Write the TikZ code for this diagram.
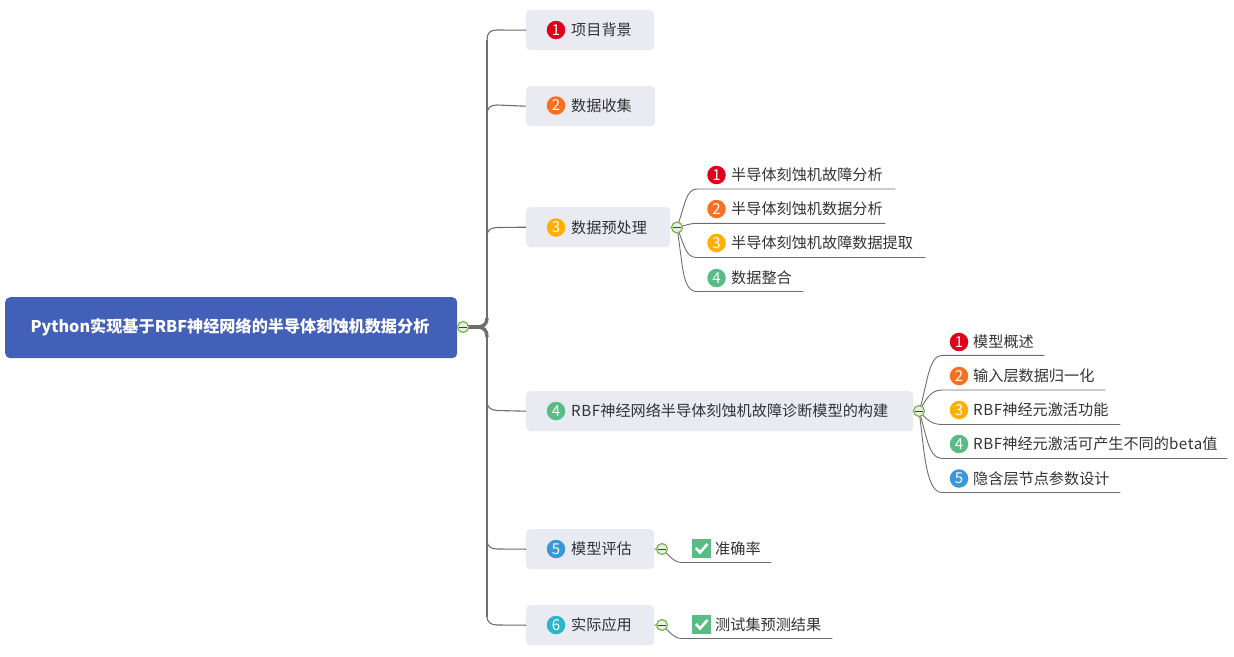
\documentclass[tikz,border=0pt]{standalone}
\usepackage{fontspec}
\setmainfont{Noto Sans CJK SC}
\newfontfamily\widelat[LetterSpace=4]{Noto Sans CJK SC}
\definecolor{cA}{HTML}{E0001B}
\definecolor{cB}{HTML}{F97022}
\definecolor{cC}{HTML}{FFAF00}
\definecolor{cD}{HTML}{58BC85}
\definecolor{cE}{HTML}{3A97D8}
\definecolor{cF}{HTML}{2CB4CC}
\definecolor{boxfill}{HTML}{E9EAF2}
\definecolor{rootfill}{HTML}{4360B9}
\definecolor{linecol}{HTML}{6E6E6E}
\definecolor{txt}{HTML}{333333}
\definecolor{foldgreen}{HTML}{7AB648}
\definecolor{foldfill}{HTML}{E6F0DF}
\tikzset{
  x=1pt,y=-1pt,
  mainbox/.style={fill=boxfill,rounded corners=4pt,inner sep=0pt,anchor=north west,minimum height=40pt},
  rootbox/.style={fill=rootfill,rounded corners=5pt,inner sep=0pt,anchor=north west,minimum width=452pt,minimum height=61pt},
  badge/.style={circle,inner sep=0pt,minimum size=18.5pt,text=white,font=\fontsize{15}{17}\selectfont},
  label/.style={inner sep=0pt,anchor=base west,text=txt,font=\fontsize{15.15}{18}\selectfont},
  hit/.style={inner sep=0pt,anchor=south west,minimum height=28pt},
  fold/.style={circle,draw=foldgreen,fill=foldfill,line width=1.2pt,minimum size=11pt,inner sep=0pt},
  checkbox/.style={fill=cD,inner sep=0pt,minimum size=19pt},
  branch/.style={draw=linecol,line width=1.1pt},
  twig/.style={draw=linecol,line width=0.9pt},
}
\newcommand{\foldminus}[1]{\draw[black!75,line width=1pt] ([xshift=-3.6pt]#1.center) -- ([xshift=3.6pt]#1.center);}
\newcommand{\checkmk}[1]{\draw[white,line width=2.6pt] ([shift={(-5.5pt,0.5pt)}]#1.center) -- ([shift={(-1.5pt,-4pt)}]#1.center) -- ([shift={(6pt,4.5pt)}]#1.center);}
\newcommand{\wl}[1]{{\widelat #1}}
\begin{document}
\begin{tikzpicture}
\useasboundingbox (0,0) rectangle (1234,656);
% root
\node[rootbox] (root) at (5,297) {};
\node[inner sep=0pt,text=white,font=\fontsize{16.15}{20}\selectfont\bfseries] (roott) at (230,327) {Python实现基于RBF神经网络的半导体刻蚀机数据分析};
% main boxes
\node[mainbox,minimum width=128pt] (b1) at (526,10) {};
\node[mainbox,minimum width=129pt] (b2) at (526,86) {};
\node[mainbox,minimum width=144pt] (b3) at (526,207) {};
\node[mainbox,minimum width=387pt] (b4) at (526,391) {};
\node[mainbox,minimum width=128pt] (b5) at (526,529) {};
\node[mainbox,minimum width=128pt] (b6) at (526,605) {};
% folds
\coordinate (fr) at (463,327);
\coordinate (f3) at (677,227.5);
\coordinate (f4) at (919,411);
\coordinate (f5) at (662,549);
\coordinate (f6) at (662,625);
% trunk junctions
\coordinate (ju) at (487,318);
\coordinate (jd) at (487,337);
\coordinate (t1) at (487,40);
\coordinate (t2) at (487,115);
\coordinate (t3) at (487,236);
\coordinate (t4) at (487,402);
\coordinate (t5) at (487,541);
\coordinate (t6) at (487,617);
% trunk (tapering, widest near the root)
\draw[linecol,line width=4.4pt] (fr) -- (478,327);
\draw[linecol,line width=3.4pt] (476,327) .. controls (484,327) and (487,324) .. (ju);
\draw[linecol,line width=3.4pt] (476,327) .. controls (484,327) and (487,330) .. (jd);
\draw[linecol,line width=2.9pt] (ju) -- (t3);
\draw[linecol,line width=2.3pt] (t3) -- (t2);
\draw[linecol,line width=1.5pt] (t2) -- (t1);
\draw[linecol,line width=2.9pt] (jd) -- (t4);
\draw[linecol,line width=2.2pt] (t4) -- (t5);
\draw[linecol,line width=1.5pt] (t5) -- (t6);
% branches to boxes
\draw[branch] (t1) .. controls (487,33) and (490,30) .. (497,30) -- (b1.west);
\draw[branch] (t2) .. controls (487,108) and (490,105) .. (497,105) -- (b2.west);
\draw[branch] (t3) .. controls (487,231) and (490,227.5) .. (497,227.5) -- (b3.west);
\draw[branch] (t4) .. controls (487,406) and (490,410.5) .. (497,410.5) -- (b4.west);
\draw[branch] (t5) .. controls (487,545) and (490,549) .. (497,549) -- (b5.west);
\draw[branch] (t6) .. controls (487,621) and (490,625) .. (497,625) -- (b6.west);
% leaves, group 3
\node[hit,minimum width=198pt] (l31) at (697,189) {};
\node[hit,minimum width=188pt] (l32) at (697,223.3) {};
\node[hit,minimum width=228pt] (l33) at (697,257.5) {};
\node[hit,minimum width=106pt] (l34) at (697,291.5) {};
\draw[twig] (f3) .. controls (685,205) and (686,189) .. (l31.south west) -- (l31.south east);
\draw[twig] (f3) .. controls (685,225.5) and (690,223.3) .. (l32.south west) -- (l32.south east);
\draw[twig] (f3) .. controls (685,247) and (686,257.5) .. (l33.south west) -- (l33.south east);
\draw[twig] (f3) .. controls (683,265) and (682,291.5) .. (l34.south west) -- (l34.south east);
% leaves, group 4
\node[hit,minimum width=102pt] (l41) at (942,355.3) {};
\node[hit,minimum width=163pt] (l42) at (942,390) {};
\node[hit,minimum width=178pt] (l43) at (942,424.5) {};
\node[hit,minimum width=285pt] (l44) at (942,458.5) {};
\node[hit,minimum width=178pt] (l45) at (942,492.5) {};
\draw[twig] (f4) .. controls (927,388) and (928,355.3) .. (l41.south west) -- (l41.south east);
\draw[twig] (f4) .. controls (926,400) and (930,390) .. (l42.south west) -- (l42.south east);
\draw[twig] (f4) .. controls (926,418) and (930,424.5) .. (l43.south west) -- (l43.south east);
\draw[twig] (f4) .. controls (926,432) and (928,458.5) .. (l44.south west) -- (l44.south east);
\draw[twig] (f4) .. controls (924,445) and (925,492.5) .. (l45.south west) -- (l45.south east);
% leaves, groups 5 and 6
\node[hit,minimum width=89pt] (l51) at (682,562.5) {};
\node[hit,minimum width=150pt] (l61) at (682,638.5) {};
\draw[twig] (f5) .. controls (670,556) and (674,562.5) .. (l51.south west) -- (l51.south east);
\draw[twig] (f6) .. controls (670,632) and (674,638.5) .. (l61.south west) -- (l61.south east);
% stubs from boxes to folds
\draw[twig] (b3.east) -- (f3);
\draw[twig] (b4.east) -- (f4);
\draw[twig] (b5.east) -- (f5);
\draw[twig] (b6.east) -- (f6);
% fold markers
\node[fold] (frn) at (fr) {}; \foldminus{frn}
\node[fold] (f3n) at (f3) {}; \foldminus{f3n}
\node[fold] (f4n) at (f4) {}; \foldminus{f4n}
\node[fold] (f5n) at (f5) {}; \foldminus{f5n}
\node[fold] (f6n) at (f6) {}; \foldminus{f6n}
% main labels
\node[badge,fill=cA] (c1) at (556,30) {1};
\node[label] (x1) at (571,35.6) {项目背景};
\node[badge,fill=cB] (c2) at (556,105.5) {2};
\node[label] (x2) at (571,111.1) {数据收集};
\node[badge,fill=cC] (c3) at (556,227.5) {3};
\node[label] (x3) at (571,233.1) {数据预处理};
\node[badge,fill=cD] (c4) at (556,411) {4};
\node[label] (x4) at (571,416.6) {\wl{RBF}神经网络半导体刻蚀机故障诊断模型的构建};
\node[badge,fill=cE] (c5) at (556,549) {5};
\node[label] (x5) at (571,554.6) {模型评估};
\node[badge,fill=cF] (c6) at (556,625) {6};
\node[label] (x6) at (571,630.6) {实际应用};
% group 3 labels
\node[badge,fill=cA] (c31) at (716.5,175) {1};
\node[label] (x31) at (731,180.6) {半导体刻蚀机故障分析};
\node[badge,fill=cB] (c32) at (716.5,209) {2};
\node[label] (x32) at (731,214.6) {半导体刻蚀机数据分析};
\node[badge,fill=cC] (c33) at (716.5,243) {3};
\node[label] (x33) at (731,248.6) {半导体刻蚀机故障数据提取};
\node[badge,fill=cD] (c34) at (716.5,278) {4};
\node[label] (x34) at (731,283.6) {数据整合};
% group 4 labels
\node[badge,fill=cA] (c41) at (959,342) {1};
\node[label] (x41) at (973,347.6) {模型概述};
\node[badge,fill=cB] (c42) at (959,376) {2};
\node[label] (x42) at (973,381.6) {输入层数据归一化};
\node[badge,fill=cC] (c43) at (959,410) {3};
\node[label] (x43) at (973,415.6) {\wl{RBF}神经元激活功能};
\node[badge,fill=cD] (c44) at (959,444) {4};
\node[label] (x44) at (973,449.6) {\wl{RBF}神经元激活可产生不同的\wl{beta}值};
\node[badge,fill=cE] (c45) at (959,478.5) {5};
\node[label] (x45) at (973,484.1) {隐含层节点参数设计};
% group 5, 6 labels
\node[checkbox] (k5) at (701.5,548.5) {}; \checkmk{k5}
\node[label] (x51) at (715,554.6) {准确率};
\node[checkbox] (k6) at (701.5,624.5) {}; \checkmk{k6}
\node[label] (x61) at (715,630.6) {测试集预测结果};
\end{tikzpicture}
\end{document}
